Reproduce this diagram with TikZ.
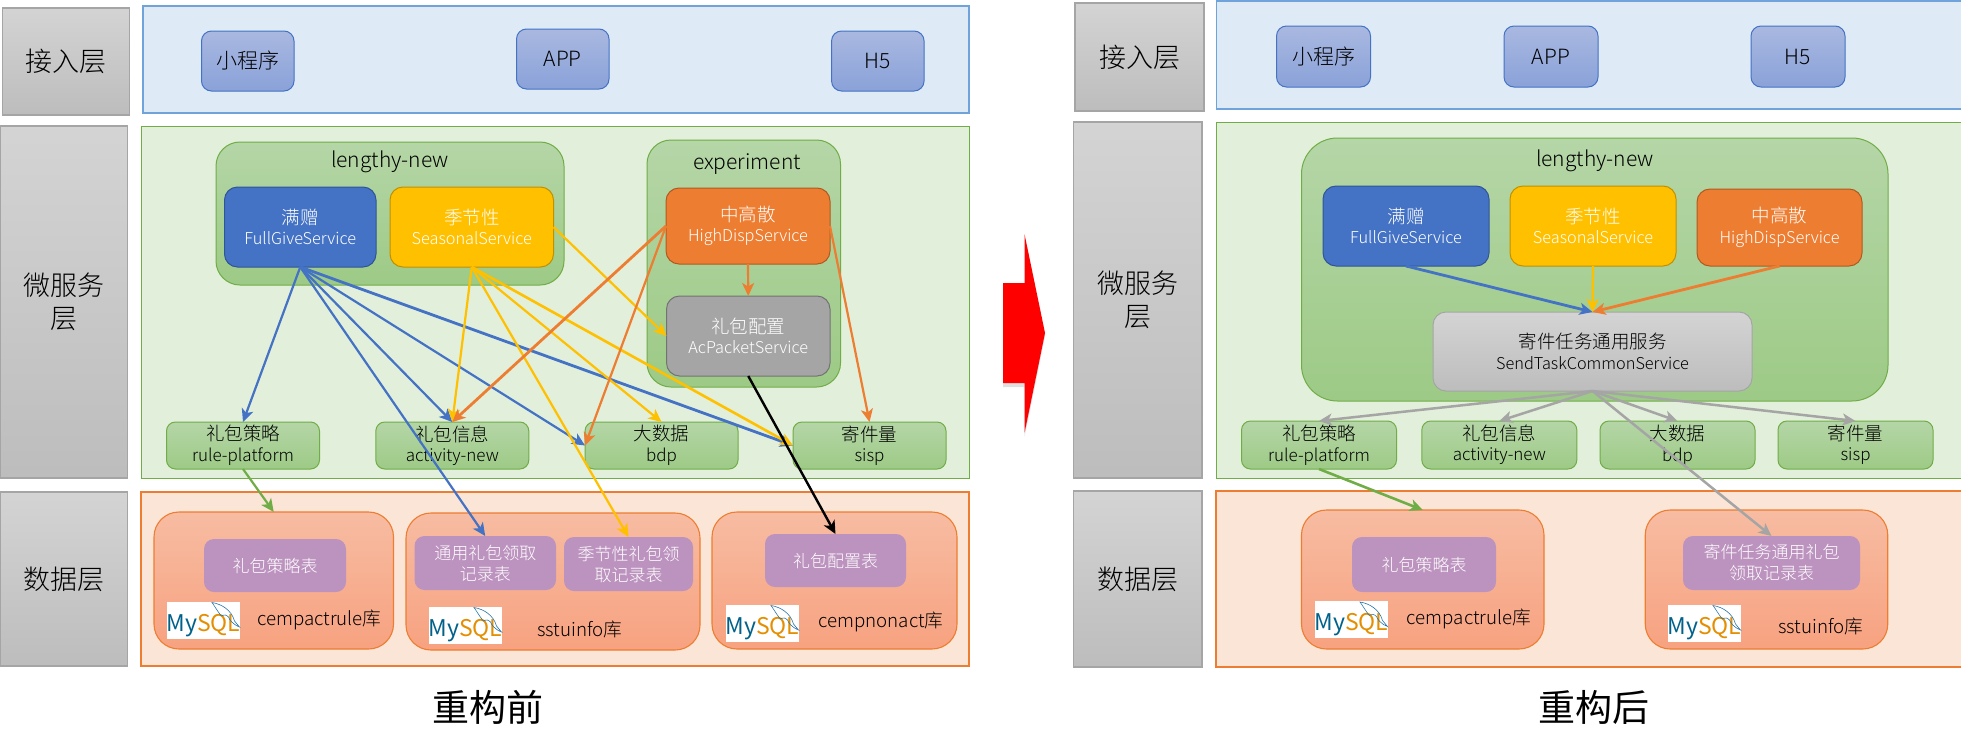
\documentclass[tikz,border=0pt]{standalone}
\usepackage{fontspec}
\setmainfont{Noto Sans CJK SC Light}
\newfontfamily\capfont{Noto Sans CJK SC}
\usetikzlibrary{arrows.meta}
\definecolor{cBlue}{HTML}{4472C4}
\definecolor{cBlueD}{HTML}{2F5597}
\definecolor{cYel}{HTML}{FFC000}
\definecolor{cYelD}{HTML}{BF9000}
\definecolor{cOra}{HTML}{ED7D31}
\definecolor{cOraD}{HTML}{AE5A21}
\definecolor{cGrn}{HTML}{70AD47}
\definecolor{cGry}{HTML}{A5A5A5}
\definecolor{cPur}{HTML}{BC92BF}
\definecolor{bandB}{HTML}{DEEAF6}
\definecolor{edgeB}{HTML}{6FA3DA}
\definecolor{bandO}{HTML}{FBE5D6}
\definecolor{appT}{HTML}{A9B8E0}
\definecolor{appB}{HTML}{8AA2D9}
\definecolor{grpT}{HTML}{B5D6A7}
\definecolor{grpB}{HTML}{9DCA86}
\definecolor{dbT}{HTML}{F7BCA2}
\definecolor{dbB}{HTML}{F7A280}
\newcommand\fs[1]{\fontsize{#1}{#1}\selectfont}
\newcommand\twoline[2]{{\fs{18.5}#1}\\[5pt]{\fs{16.3}#2}}
\newcommand\smallline[2]{{\fs{18.5}#1}\\[5pt]{\fs{17}#2}}
\tikzset{
  x=1pt,y=-1pt,
  base/.style={draw,inner sep=0pt,outer sep=0pt,align=center},
  tier/.style={base,draw=cGry,line width=1.2pt,top color=black!17,bottom color=black!26,text=black,font=\fs{27},text width=100pt},
  bandblue/.style={base,draw=edgeB,line width=1.7pt,fill=bandB},
  bandgreen/.style={base,draw=cGrn,line width=1pt,fill=cGrn!20!white},
  bandorange/.style={base,draw=cOra,line width=1.1pt,fill=bandO},
  appbox/.style={base,draw=cBlue,line width=1pt,rounded corners=10pt,top color=appT,bottom color=appB,text=black,font=\fs{21}},
  group/.style={base,draw=cGrn,line width=1pt,rounded corners=24pt,top color=grpT,bottom color=grpB},
  groupwide/.style={group,rounded corners=36pt},
  grouptitle/.style={inner sep=0pt,text=black,font=\fs{21}},
  svcblue/.style={base,draw=cBlueD,line width=1pt,rounded corners=13pt,fill=cBlue,text=white},
  svcyel/.style={base,draw=cYelD,line width=1pt,rounded corners=13pt,fill=cYel,text=white},
  svcora/.style={base,draw=cOraD,line width=1pt,rounded corners=13pt,fill=cOra,text=white},
  svcgry/.style={base,draw=black!55,line width=1pt,rounded corners=13pt,fill=cGry,text=white},
  svccommon/.style={base,draw=cGry,line width=1pt,rounded corners=13pt,top color=black!17,bottom color=black!26,text=black},
  smallbox/.style={base,draw=cGrn,line width=1pt,rounded corners=9pt,top color=grpT,bottom color=grpB,text=black},
  dbbox/.style={base,draw=cOra,line width=1.1pt,rounded corners=25pt,top color=dbT,bottom color=dbB},
  tbl/.style={base,draw=none,rounded corners=10pt,fill=cPur,text=white,font=\fs{17}},
  dbname/.style={inner sep=0pt,text=black,font=\fs{18.7}},
  caption/.style={inner sep=0pt,text=black,font=\capfont\fs{37}},
  logobox/.style={draw=none,fill=white,minimum width=73pt,minimum height=37pt,inner sep=0pt,outer sep=0pt},
  link/.style={-{Stealth[length=13pt,width=12pt,inset=3.5pt]},line width=2.2pt},
  linkb/.style={link,cBlue},
  linky/.style={link,cYel},
  linko/.style={link,cOra},
  linkg/.style={link,cGrn},
  linkk/.style={link,black},
  linkc/.style={link,cGry},
}
\newcommand\mysql[3]{%
  \node[logobox] (#1) at (#2,#3) {};
  \node[inner sep=0pt,font=\capfont\fs{23},anchor=south] (#1-t) at ([yshift=1.5pt]#1.south) {\textcolor[HTML]{00618A}{My}\textcolor[HTML]{E48E00}{SQL}};
  \draw[line width=.6pt,color=cBlue!60!teal] ([xshift=8.5pt,yshift=17.5pt]#1.center)
     .. controls ([xshift=18pt,yshift=16pt]#1.center) and ([xshift=28pt,yshift=10pt]#1.center) .. ([xshift=31pt,yshift=-1pt]#1.center)
     -- ([xshift=36pt,yshift=-7pt]#1.center)
     .. controls ([xshift=29pt,yshift=-4pt]#1.center) and ([xshift=26pt,yshift=0pt]#1.center) .. ([xshift=25pt,yshift=3pt]#1.center)
     .. controls ([xshift=20pt,yshift=8pt]#1.center) and ([xshift=18pt,yshift=2pt]#1.center) .. ([xshift=17pt,yshift=5pt]#1.center)
     .. controls ([xshift=14pt,yshift=9pt]#1.center) and ([xshift=11pt,yshift=14pt]#1.center) .. cycle;
}
\begin{document}
\begin{tikzpicture}
\useasboundingbox (0,0) rectangle (1961,742);
% ===== left panel =====
\node[tier,minimum width=127pt,minimum height=107pt] (Lt1) at (66,61.5) {接入层};
\node[bandblue,minimum width=826pt,minimum height=107pt] (Lb1) at (556,59.5) {};
\node[appbox,minimum width=92.5pt,minimum height=60pt] (La1) at (247.75,61) {小程序};
\node[appbox,minimum width=92.5pt,minimum height=60pt] (La2) at (562.75,59) {APP};
\node[appbox,minimum width=92.5pt,minimum height=60pt] (La3) at (877.8,61) {H5};
\node[tier,minimum width=127pt,minimum height=352pt] (Lt2) at (64.3,302) {微服务\\[6pt]层};
\node[bandgreen,minimum width=828pt,minimum height=352pt] (Lb2) at (555,302) {};
\node[group,minimum width=348pt,minimum height=143pt] (Lg1) at (390,213.5) {};
\node[group,minimum width=193.5pt,minimum height=247pt] (Lg2) at (743.75,263.5) {};
\node[grouptitle] (Lg1t) at (390,162) {lengthy-new};
\node[grouptitle] (Lg2t) at (747,164) {experiment};
\node[svcblue,minimum width=151.5pt,minimum height=80pt] (Ls1) at (300.25,227) {\twoline{满赠}{FullGiveService}};
\node[svcyel,minimum width=163.5pt,minimum height=80pt] (Ls2) at (471.75,227) {\twoline{季节性}{SeasonalService}};
\node[svcora,minimum width=164pt,minimum height=76pt] (Ls3) at (748,226) {\twoline{中高散}{HighDispService}};
\node[svcgry,minimum width=163.5pt,minimum height=80pt] (Ls4) at (748.25,336) {\twoline{礼包配置}{AcPacketService}};
\node[smallbox,minimum width=153pt,minimum height=47pt] (Ld1) at (243,445.5) {\smallline{礼包策略}{rule-platform}};
\node[smallbox,minimum width=153pt,minimum height=47pt] (Ld2) at (452.3,445.5) {\smallline{礼包信息}{activity-new}};
\node[smallbox,minimum width=153pt,minimum height=47pt] (Ld3) at (661.5,445.5) {\smallline{大数据}{bdp}};
\node[smallbox,minimum width=153pt,minimum height=47pt] (Ld4) at (869.5,445.5) {\smallline{寄件量}{sisp}};
\node[tier,minimum width=127pt,minimum height=174pt] (Lt3) at (64.3,579) {数据层};
\node[bandorange,minimum width=828pt,minimum height=174pt] (Lb3) at (555,579) {};
\node[dbbox,minimum width=239.5pt,minimum height=137pt] (Lc1) at (273.75,580.5) {};
\node[dbbox,minimum width=294pt,minimum height=137pt] (Lc2) at (553,581.5) {};
\node[dbbox,minimum width=245pt,minimum height=137pt] (Lc3) at (834.5,580.5) {};
\node[tbl,minimum width=142pt,minimum height=53pt] (Lp1) at (275,565.5) {礼包策略表};
\node[tbl,minimum width=141.5pt,minimum height=54pt] (Lp2) at (485.25,563) {通用礼包领取\\[4pt]记录表};
\node[tbl,minimum width=129pt,minimum height=54pt] (Lp3) at (628.5,564) {季节性礼包领\\[4pt]取记录表};
\node[tbl,minimum width=141pt,minimum height=53pt] (Lp4) at (835.5,560.5) {礼包配置表};
\mysql{Lm1}{203.5}{620}
\mysql{Lm2}{465.5}{625}
\mysql{Lm3}{762.5}{623}
\node[dbname] (Ln1) at (319.5,620) {cempactrule库};
\node[dbname] (Ln2) at (580,629) {sstuinfo库};
\node[dbname] (Ln3) at (881,622) {cempnonact库};
\node[caption] (Lcap) at (488,707) {重构前};
% ===== arrow between panels =====
\fill[black!12] (1045,336) -- (1024.5,437) -- (1024.5,387) -- (1003,387) -- (1003,300) -- cycle;
\fill[red] (1045,333) -- (1024.5,433) -- (1024.5,383) -- (1003,383) -- (1003,283) -- (1024.5,283) -- (1024.5,234) -- cycle;
% ===== right panel =====
\node[tier,minimum width=129pt,minimum height=108pt] (Rt1) at (1139.5,57) {接入层};
\node[bandblue,minimum width=756pt,minimum height=108pt] (Rb1) at (1594.5,54.75) {};
\node[appbox,minimum width=94pt,minimum height=61pt] (Ra1) at (1323.5,56.5) {小程序};
\node[appbox,minimum width=94pt,minimum height=61pt] (Ra2) at (1551,56.5) {APP};
\node[appbox,minimum width=94pt,minimum height=61pt] (Ra3) at (1798,56.5) {H5};
\node[tier,minimum width=128.5pt,minimum height=356pt] (Rt2) at (1137.75,300) {微服务\\[6pt]层};
\node[bandgreen,minimum width=756pt,minimum height=356pt] (Rb2) at (1594,300) {};
\node[groupwide,minimum width=586.5pt,minimum height=263pt] (Rg1) at (1594.75,269.5) {};
\node[grouptitle] (Rg1t) at (1595,161) {lengthy-new};
\node[svcblue,minimum width=166pt,minimum height=80pt] (Rs1) at (1406,226) {\twoline{满赠}{FullGiveService}};
\node[svcyel,minimum width=166pt,minimum height=80pt] (Rs2) at (1593,226) {\twoline{季节性}{SeasonalService}};
\node[svcora,minimum width=165pt,minimum height=77pt] (Rs3) at (1779.5,227.5) {\twoline{中高散}{HighDispService}};
\node[svccommon,minimum width=319pt,minimum height=79pt] (Rs4) at (1592.5,351.5) {\twoline{寄件任务通用服务}{SendTaskCommonService}};
\node[smallbox,minimum width=155pt,minimum height=48pt] (Rd1) at (1319,445) {\smallline{礼包策略}{rule-platform}};
\node[smallbox,minimum width=155pt,minimum height=48pt] (Rd2) at (1499.3,445) {\smallline{礼包信息}{activity-new}};
\node[smallbox,minimum width=155pt,minimum height=48pt] (Rd3) at (1677.5,445) {\smallline{大数据}{bdp}};
\node[smallbox,minimum width=155pt,minimum height=48pt] (Rd4) at (1855.5,445) {\smallline{寄件量}{sisp}};
\node[tier,minimum width=128.5pt,minimum height=176pt] (Rt3) at (1137.75,579) {数据层};
\node[bandorange,minimum width=756pt,minimum height=176pt] (Rb3) at (1594,579) {};
\node[dbbox,minimum width=242.5pt,minimum height=139pt] (Rc1) at (1422.75,579.5) {};
\node[dbbox,minimum width=242.5pt,minimum height=139pt] (Rc2) at (1766.5,579.5) {};
\node[tbl,minimum width=144pt,minimum height=55pt] (Rp1) at (1424,564.5) {礼包策略表};
\node[tbl,minimum width=177pt,minimum height=54pt] (Rp2) at (1771.5,563) {寄件任务通用礼包\\[4pt]领取记录表};
\mysql{Rm1}{1351.5}{619.5}
\mysql{Rm2}{1704.5}{623}
\node[dbname] (Rn1) at (1469,619) {cempactrule库};
\node[dbname] (Rn2) at (1821,626) {sstuinfo库};
\node[caption] (Rcap) at (1594,707) {重构后};
% ===== connectors, left =====
\draw[linkb] (Ls1.south) -- (Ld1.north);
\draw[linkb] (Ls1.south) -- (Ld2.north);
\draw[linkb] (Ls1.south) -- (Ld3.west);
\draw[linkb,line width=2.8pt] (Ls1.south) -- (Ld4.west);
\draw[linkb] (Ls1.south) -- (Lp2.north);
\draw[linky] (Ls2.east) -- (Ls4.west);
\draw[linky] (Ls2.south) -- (Ld2.north);
\draw[linky] (Ls2.south) -- (Ld3.north);
\draw[linky,line width=2.6pt] (Ls2.south) -- (Ld4.west);
\draw[linky] (Ls2.south) -- (Lp3.north);
\draw[linko,line width=2.8pt] (Ls3.west) -- (Ld2.north);
\draw[linko] (Ls3.west) -- (Ld3.west);
\draw[linko] (Ls3.south) -- (Ls4.north);
\draw[linko] (Ls3.east) -- (Ld4.north);
\draw[linkg] (Ld1.south) -- (Lc1.north);
\draw[linkk,line width=2.4pt] (Ls4.south) -- (Lp4.north);
% ===== connectors, right =====
\draw[linkb,line width=2.8pt] (Rs1.south) -- (Rs4.north);
\draw[linky] (Rs2.south) -- (Rs4.north);
\draw[linko,line width=2.8pt] (Rs3.south) -- (Rs4.north);
\draw[linkc,line width=2.5pt] (Rs4.south) -- (Rd1.north);
\draw[linkc,line width=2.5pt] (Rs4.south) -- (Rd2.north);
\draw[linkc,line width=2.5pt] (Rs4.south) -- (Rd3.north);
\draw[linkc,line width=2.5pt] (Rs4.south) -- (Rd4.north);
\draw[linkc,line width=2.5pt] (Rs4.south) -- (Rp2.north);
\draw[linkg,line width=2.6pt] (Rd1.south) -- (Rc1.north);
\end{tikzpicture}
\end{document}
